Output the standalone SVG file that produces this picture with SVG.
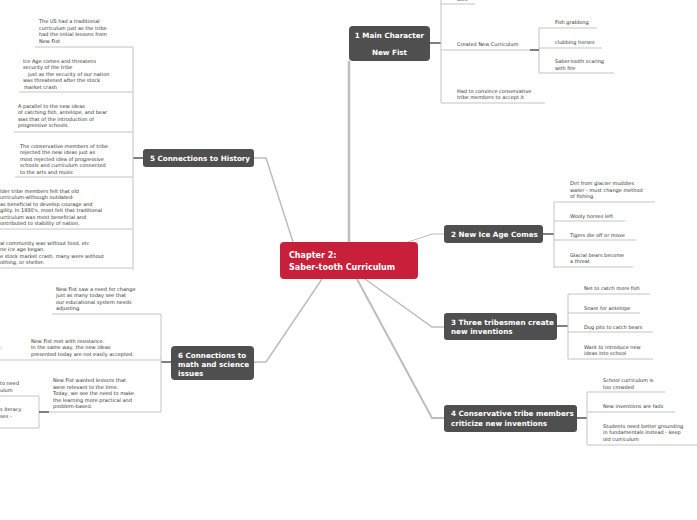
<svg xmlns="http://www.w3.org/2000/svg" width="697" height="520" viewBox="0 0 697 520">
<style>
.n{fill:#4f4f4f}
.nt{fill:#fff;font-family:"DejaVu Sans",sans-serif;font-size:7.2px;font-weight:bold}
.t{fill:#333;font-family:"DejaVu Sans",sans-serif;font-size:5px}
.l{stroke:#c4c4c4;stroke-width:1;fill:none}
.k{stroke:#555;stroke-width:1.5;fill:none}
.c{stroke:#bdbdbd;fill:none}
</style>
<rect width="697" height="520" fill="#fff"/>
<g id="connectors">
<path class="c" stroke-width="2.5" d="M349,61 L349,242"/>
<path class="c" stroke-width="1" d="M444,234 L432,234 L405,243"/>
<path class="c" stroke-width="1.5" d="M444,327 L432,327 L365,279"/>
<path class="c" stroke-width="2" d="M444,418 L432,418 L357,279"/>
<path class="c" stroke-width="1.5" d="M254,158 L266,158 L293,242"/>
<path class="c" stroke-width="1.5" d="M254,362 L266,362 L322,279"/>
<path class="k" d="M430,43 L441,43"/><path class="l" d="M441,0 V103 M441,4 H475 M441,50 H530 M441,103 H545 M539,28 V73 M539,28 H597 M539,48 H602 M539,73 H614"/><path class="k" d="M530,50 H539"/>
<path class="k" d="M543,234 H554"/><path class="l" d="M554,202 V268 M554,202 H655 M554,221 H625 M554,240 H636 M554,267 H633"/>
<path class="k" d="M557,326 H568"/><path class="l" d="M568,294 V359 M568,294 H650 M568,313 H640 M568,332 H653 M568,359 H653"/>
<path class="k" d="M577,418 H587"/><path class="l" d="M587,392 V445 M587,392 H665 M587,412 H675 M587,445 H697"/>
<path class="k" d="M143,158 H133"/><path class="l" d="M133,47 V270 M35,47 H133 M19,92 H133 M14,132 H133 M15,177 H133 M0,229 H133 M0,268 H133"/>
<path class="k" d="M171,362 H161"/><path class="l" d="M161,314 V412 M52,314 H161 M0,360 H161 M49,412 H161 M39,396 V428 M0,396 H39 M0,428 H39"/><path class="k" d="M39,412 H49"/>
</g>
<g id="central"><rect x="280" y="242" width="138" height="37" rx="4" fill="#c8203a"/><text class="nt" x="289" y="258" style="font-size:8px">Chapter 2:</text><text class="nt" x="289" y="270" style="font-size:8px">Saber-tooth Curriculum</text></g>
<g id="n1"><rect class="n" x="349" y="26" width="81" height="35" rx="4"/><text class="nt" x="389.5" y="38" text-anchor="middle">1 Main Character</text><text class="nt" x="389.5" y="55" text-anchor="middle">New Fist</text>
<text class="t" x="457" y="1">ates</text><text class="t" x="457" y="46">Created New Curriculum</text><text class="t" x="555" y="24">Fish grabbing</text><text class="t" x="555" y="44">clubbing horses</text><text class="t" x="555" y="63">Saber-tooth scaring</text><text class="t" x="555" y="70">with fire</text><text class="t" x="457" y="93">Had to convince conservative</text><text class="t" x="457" y="99">tribe members to accept it</text></g>
<g id="n2"><rect class="n" x="444" y="225" width="99" height="18" rx="3"/><text class="nt" x="451" y="237">2 New Ice Age Comes</text>
<text class="t" x="570" y="185">Dirt from glacier muddies</text><text class="t" x="570" y="192">water - must change method</text><text class="t" x="570" y="198">of fishing</text><text class="t" x="570" y="218">Wooly horses left</text><text class="t" x="570" y="237">Tigers die off or move</text><text class="t" x="570" y="257">Glacial bears become</text><text class="t" x="570" y="263">a threat</text></g>
<g id="n3"><rect class="n" x="444" y="313" width="113" height="27" rx="3"/><text class="nt" x="451" y="325">3 Three tribesmen create</text><text class="nt" x="451" y="334">new inventions</text>
<text class="t" x="584" y="290">Net to catch more fish</text><text class="t" x="584" y="310">Snare for antelope</text><text class="t" x="584" y="329">Dug pits to catch bears</text><text class="t" x="584" y="349">Want to introduce new</text><text class="t" x="584" y="355">ideas into school</text></g>
<g id="n4"><rect class="n" x="444" y="405" width="133" height="27" rx="3"/><text class="nt" x="451" y="416">4 Conservative tribe members</text><text class="nt" x="451" y="426">criticize new inventions</text>
<text class="t" x="603" y="382">School curriculum  is</text><text class="t" x="603" y="389">too crowded</text><text class="t" x="603" y="408">New inventions are fads</text><text class="t" x="603" y="428">Students need better grounding</text><text class="t" x="603" y="434">in fundamentals instead - keep</text><text class="t" x="603" y="441">old curriculum</text></g>
<g id="n5"><rect class="n" x="143" y="149" width="111" height="18" rx="3"/><text class="nt" x="150" y="161">5 Connections to History</text>
<text class="t" x="39" y="23">The US had a traditional</text><text class="t" x="39" y="30">curriculum just as the tribe</text><text class="t" x="39" y="36">had the initial lessons from</text><text class="t" x="39" y="43">New Fist</text>
<text class="t" x="23" y="63">Ice Age comes and threatens</text><text class="t" x="23" y="69">security of the tribe</text><text class="t" x="28" y="76">just as the security of our nation</text><text class="t" x="23" y="82">was threatened after the stock</text><text class="t" x="24" y="89">market crash</text>
<text class="t" x="18" y="108">A parallel to the new ideas</text><text class="t" x="18" y="114">of catching fish, antelope, and bear</text><text class="t" x="18" y="121">was that of the introduction of</text><text class="t" x="18" y="127">progressive schools.</text>
<text class="t" x="20" y="148">The conservative members of tribe</text><text class="t" x="20" y="154">rejected the new ideas just as</text><text class="t" x="20" y="161">most rejected idea of progressive</text><text class="t" x="20" y="167">schools and curriculum connected</text><text class="t" x="20" y="174">to the arts and music</text>
<text class="t" x="0" y="193">lder tribe members felt that old</text><text class="t" x="0" y="199">urriculum-although outdated-</text><text class="t" x="0" y="206">as beneficial to develop courage and</text><text class="t" x="0" y="212">gility.  In 1930's, most felt that traditional</text><text class="t" x="0" y="219">urriculum was most beneficial and</text><text class="t" x="0" y="225">ontributed to stability of nation.</text>
<text class="t" x="0" y="245">al community was without food, etc</text><text class="t" x="0" y="251">ne ice age began.</text><text class="t" x="0" y="258">e stock market crash, many were without</text><text class="t" x="0" y="264">othing, or shelter.</text></g>
<g id="n6"><rect class="n" x="171" y="346" width="83" height="34" rx="4"/><text class="nt" x="178" y="358">6 Connections to</text><text class="nt" x="178" y="367">math and science</text><text class="nt" x="178" y="376">issues</text>
<text class="t" x="56" y="291">New Fist saw a need for change</text><text class="t" x="56" y="297">just as many today see that</text><text class="t" x="56" y="304">our educational system needs</text><text class="t" x="56" y="310">adjusting.</text>
<text class="t" x="31" y="343">New Fist met with resistance.</text><text class="t" x="31" y="349">In the same way, the new ideas</text><text class="t" x="31" y="356">presented today are not easily accepted.</text><text class="t" x="0" y="349">:</text>
<text class="t" x="53" y="382">New Fist wanted lessons that</text><text class="t" x="53" y="389">were relevant to the time.</text><text class="t" x="53" y="395">Today, we see the need to make</text><text class="t" x="53" y="402">the learning more practical and</text><text class="t" x="53" y="408">problem-based.</text>
<text class="t" x="0" y="385">to need</text><text class="t" x="0" y="392">ulum</text><text class="t" x="0" y="411">s iteracy</text><text class="t" x="0" y="418">ses -</text></g>
</svg>
